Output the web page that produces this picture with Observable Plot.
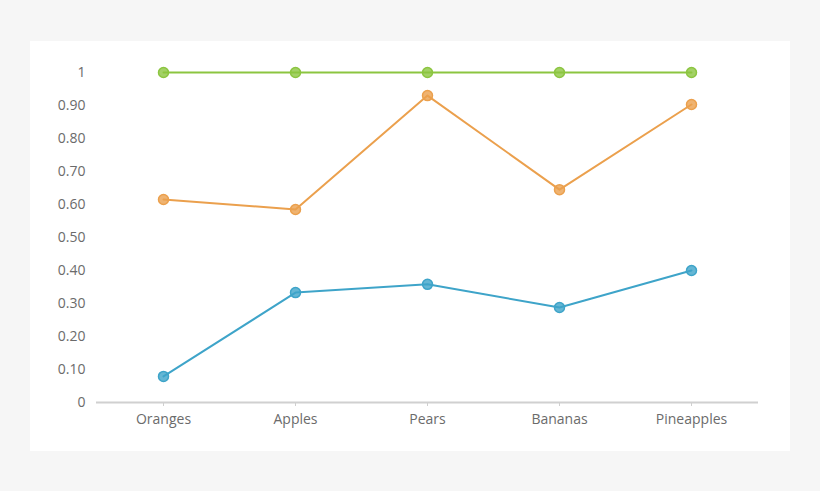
<!DOCTYPE html>
<html>
<head>
<meta charset="utf-8">
<script src="https://cdn.jsdelivr.net/npm/d3@7"></script>
<script src="https://cdn.jsdelivr.net/npm/@observablehq/plot@0.6"></script>
<style>
  html, body { margin: 0; padding: 0; background: #f6f6f6; }
  #panel { position: absolute; left: 30px; top: 41px; width: 760px; height: 410px; background: #ffffff; }
  #panel svg { display: block; }
  #panel svg text { font-size: 14px; }
</style>
</head>
<body>
<div id="panel"></div>
<script>
const categories = ["Oranges", "Apples", "Pears", "Bananas", "Pineapples"];
const seriesNames = ["Series 1", "Series 2", "Series 3"];
const series1Values = [1, 1, 1, 1, 1];
const series2Values = [0.615, 0.585, 0.93, 0.645, 0.903];
const series3Values = [0.079, 0.333, 0.358, 0.288, 0.40];
const yTicks = [0, 0.1, 0.2, 0.3, 0.4, 0.5, 0.6, 0.7, 0.8, 0.9, 1];
const colors = ["#8cc540", "#eba04d", "#3ea4c9"];

const allValues = [series1Values, series2Values, series3Values];
const data = [];
seriesNames.forEach((s, i) => {
  categories.forEach((c, j) => data.push({series: s, category: c, value: allValues[i][j]}));
});

const chart = Plot.plot({
  width: 760,
  height: 410,
  marginTop: 31,
  marginBottom: 49,
  marginLeft: 66,
  marginRight: 32,
  style: {fontFamily: "'Open Sans', 'Noto Sans', sans-serif", fontSize: "14px", color: "#6b6b6b", background: "transparent"},
  x: {type: "point", domain: categories, padding: 0.5, label: null},
  y: {domain: [0, 1], label: null},
  color: {domain: seriesNames, range: colors},
  marks: [
    Plot.axisY({ticks: yTicks, tickSize: 0, tickPadding: 11, tickFormat: d => (d === 0 ? "0" : d === 1 ? "1" : d.toFixed(2)), fill: "#6b6b6b"}),
    Plot.axisX({tickSize: 4, tickPadding: 8, stroke: "#cfcfcf", fill: "#6b6b6b"}),
    Plot.ruleY([0], {stroke: "#d0d0d0", strokeWidth: 2}),
    Plot.line(data, {x: "category", y: "value", z: "series", stroke: "series", strokeWidth: 2}),
    Plot.dot(data, {x: "category", y: "value", fill: "series", stroke: "series", r: 5, fillOpacity: 0.8, strokeWidth: 1.5})
  ]
});
document.getElementById("panel").appendChild(chart);
</script>
</body>
</html>
